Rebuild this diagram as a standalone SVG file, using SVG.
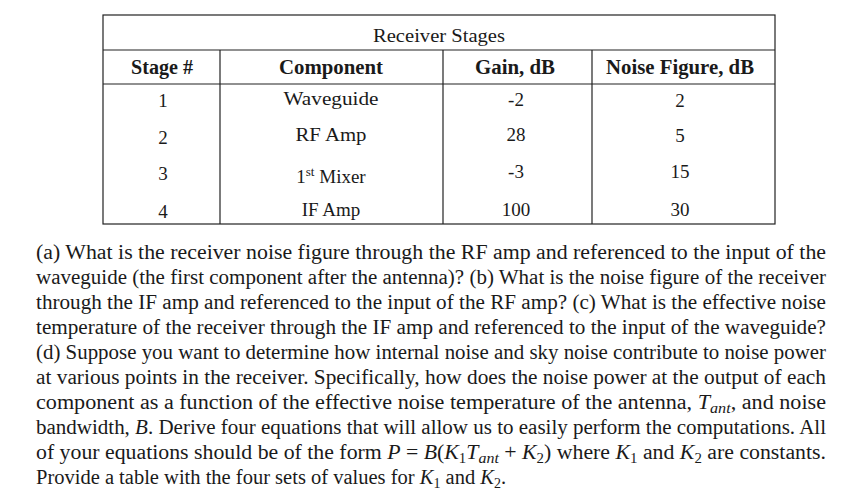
<svg xmlns="http://www.w3.org/2000/svg" width="864" height="501" viewBox="0 0 864 501">
<style>
text{font-family:"Liberation Serif","Times New Roman",serif;fill:#1a1a1a}
.c{font-size:19px;text-anchor:middle}
.b{font-weight:bold;font-size:20px}
.p{font-size:20.5px}
line{stroke:#222;stroke-width:1.2}
</style>
<rect width="864" height="501" fill="#fff"/>
<g id="table">
<rect x="103" y="15" width="672" height="209" fill="none" stroke="#222" stroke-width="1.2"/>
<line x1="103" y1="50" x2="775" y2="50"/>
<line x1="103" y1="84" x2="775" y2="84"/>
<line x1="220" y1="50" x2="220" y2="224"/>
<line x1="443" y1="50" x2="443" y2="224"/>
<line x1="592" y1="50" x2="592" y2="224"/>
<text class="c" x="439" y="42" textLength="132" lengthAdjust="spacingAndGlyphs">Receiver Stages</text>
<text class="c b" x="162" y="74" textLength="62" lengthAdjust="spacingAndGlyphs">Stage #</text>
<text class="c b" x="331" y="74" textLength="104" lengthAdjust="spacingAndGlyphs">Component</text>
<text class="c b" x="515" y="74" textLength="80" lengthAdjust="spacingAndGlyphs">Gain, dB</text>
<text class="c b" x="680" y="74" textLength="148" lengthAdjust="spacingAndGlyphs">Noise Figure, dB</text>
<text class="c" x="163" y="107">1</text><text class="c" x="331" y="105" textLength="95" lengthAdjust="spacingAndGlyphs">Waveguide</text><text class="c" x="516" y="106">-2</text><text class="c" x="680" y="107">2</text>
<text class="c" x="163" y="144">2</text><text class="c" x="331" y="141" textLength="71" lengthAdjust="spacingAndGlyphs">RF Amp</text><text class="c" x="516" y="141">28</text><text class="c" x="680" y="142">5</text>
<text class="c" x="163" y="180">3</text><text class="c" x="331" y="183">1<tspan font-size="13" dy="-7">st</tspan><tspan dy="7"> Mixer</tspan></text><text class="c" x="516" y="178">-3</text><text class="c" x="680" y="178">15</text>
<text class="c" x="163" y="218">4</text><text class="c" x="331" y="216">IF Amp</text><text class="c" x="516" y="216">100</text><text class="c" x="680" y="216">30</text>
</g>
<g id="question">
<text class="p" x="36" y="259" textLength="790" lengthAdjust="spacingAndGlyphs">(a) What is the receiver noise figure through the RF amp and referenced to the input of the</text>
<text class="p" x="36" y="284" textLength="790" lengthAdjust="spacingAndGlyphs">waveguide (the first component after the antenna)? (b) What is the noise figure of the receiver</text>
<text class="p" x="36" y="309" textLength="790" lengthAdjust="spacingAndGlyphs">through the IF amp and referenced to the input of the RF amp? (c) What is the effective noise</text>
<text class="p" x="36" y="334" textLength="790" lengthAdjust="spacingAndGlyphs">temperature of the receiver through the IF amp and referenced to the input of the waveguide?</text>
<text class="p" x="36" y="359" textLength="790" lengthAdjust="spacingAndGlyphs">(d) Suppose you want to determine how internal noise and sky noise contribute to noise power</text>
<text class="p" x="36" y="384" textLength="790" lengthAdjust="spacingAndGlyphs">at various points in the receiver. Specifically, how does the noise power at the output of each</text>
<text class="p" x="36" y="409" textLength="790" lengthAdjust="spacingAndGlyphs">component as a function of the effective noise temperature of the antenna, <tspan font-style="italic">T</tspan><tspan font-style="italic" font-size="15" dy="4">ant</tspan><tspan dy="-4">,  and noise</tspan></text>
<text class="p" x="36" y="434" textLength="790" lengthAdjust="spacingAndGlyphs">bandwidth, <tspan font-style="italic">B</tspan>.  Derive four equations that will allow us to easily perform the computations. All</text>
<text class="p" x="36" y="459" textLength="790" lengthAdjust="spacingAndGlyphs">of your equations should be of the form <tspan font-style="italic">P</tspan>  =  <tspan font-style="italic">B</tspan>(<tspan font-style="italic">K</tspan><tspan font-size="14" dy="4">1</tspan><tspan font-style="italic" dy="-4">T</tspan><tspan font-style="italic" font-size="15" dy="4">ant</tspan><tspan dy="-4"> + </tspan><tspan font-style="italic">K</tspan><tspan font-size="14" dy="4">2</tspan><tspan dy="-4">)  where </tspan><tspan font-style="italic">K</tspan><tspan font-size="14" dy="4">1</tspan><tspan dy="-4"> and </tspan><tspan font-style="italic">K</tspan><tspan font-size="14" dy="4">2</tspan><tspan dy="-4"> are constants.</tspan></text>
<text class="p" x="36" y="484">Provide a table with the four sets of values for <tspan font-style="italic">K</tspan><tspan font-size="14" dy="4">1</tspan><tspan dy="-4"> and </tspan><tspan font-style="italic">K</tspan><tspan font-size="14" dy="4">2</tspan><tspan dy="-4">.</tspan></text>
</g>
</svg>
